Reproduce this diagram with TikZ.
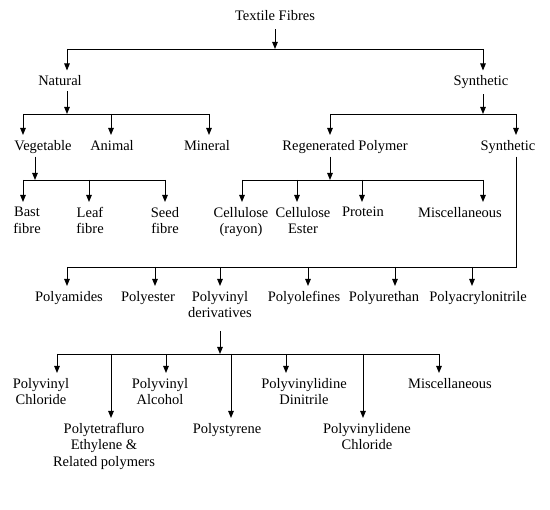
\documentclass[tikz,border=0pt]{standalone}
\usepackage{fontspec}
\setmainfont{Liberation Serif}
\usetikzlibrary{arrows.meta}
\begin{document}
\begin{tikzpicture}[x=1pt,y=-1pt,
  lbl/.style={anchor=north,inner xsep=0pt,inner ysep=5pt,align=center,font=\fontsize{14.5}{16.4}\selectfont},
  arr/.style={line width=0.9pt,-{Triangle[width=5.5pt,length=7pt]}},
  ln/.style={line width=0.9pt}]
\useasboundingbox[fill=white] (0,0) rectangle (550,510);
% nodes
\node[lbl] (tf) at (275,5) {Textile Fibres};
\node[lbl] (nat) at (60,70.5) {Natural};
\node[lbl] (syn) at (481,70.5) {Synthetic};
\node[lbl] (veg) at (43,135) {Vegetable};
\node[lbl] (ani) at (112,135) {Animal};
\node[lbl] (min) at (207,135) {Mineral};
\node[lbl] (reg) at (345,135) {Regenerated Polymer};
\node[lbl] (syn2) at (508,135) {Synthetic};
\node[lbl] (bast) at (27,202) {Bast\\fibre};
\node[lbl] (leaf) at (90,202) {Leaf\\fibre};
\node[lbl] (seed) at (165,202) {Seed\\fibre};
\node[lbl] (cr) at (241,202) {Cellulose\\(rayon)};
\node[lbl] (ce) at (303,202) {Cellulose\\Ester};
\node[lbl] (pro) at (363,202) {Protein};
\node[lbl] (misa) at (460,202) {Miscellaneous};
\node[lbl] (pam) at (69,286) {Polyamides};
\node[lbl] (pes) at (148,286) {Polyester};
\node[lbl] (pvd) at (220,286) {Polyvinyl\\derivatives};
\node[lbl] (pol) at (304,286) {Polyolefines};
\node[lbl] (pur) at (384,286) {Polyurethan};
\node[lbl] (pac) at (478,286) {Polyacrylonitrile};
\node[lbl] (pvc) at (41,373) {Polyvinyl\\Chloride};
\node[lbl] (ptfe) at (104,418) {Polytetrafluro\\Ethylene \&\\Related polymers};
\node[lbl] (pva) at (160,373) {Polyvinyl\\Alcohol};
\node[lbl] (pst) at (227,418) {Polystyrene};
\node[lbl] (pvdn) at (304,373) {Polyvinylidine\\Dinitrile};
\node[lbl] (pvdc) at (367,418) {Polyvinylidene\\Chloride};
\node[lbl] (misb) at (450,373) {Miscellaneous};
% level 0
\coordinate (j0) at (275,49);
\coordinate (j0a) at (67,49);
\coordinate (j0b) at (483,49);
\draw[arr] ([yshift=-3.5pt]tf.south) -- (j0);
\draw[ln] (j0a) -- (j0b);
\draw[arr] (j0a) -- (j0a |- nat.north);
\draw[arr] (j0b) -- (j0b |- syn.north);
% natural
\coordinate (j1) at (67,114);
\coordinate (j1a) at (23,114);
\coordinate (j1b) at (111,114);
\coordinate (j1c) at (209,114);
\draw[arr] (j1 |- nat.south) -- (j1);
\draw[ln] (j1a) -- (j1c);
\draw[arr] (j1a) -- (j1a |- veg.north);
\draw[arr] (j1b) -- (j1b |- ani.north);
\draw[arr] (j1c) -- (j1c |- min.north);
% synthetic
\coordinate (j2) at (483,114);
\coordinate (j2a) at (330,114);
\coordinate (j2b) at (516,114);
\draw[arr] (j2 |- syn.south) -- (j2);
\draw[ln] (j2a) -- (j2b);
\draw[arr] (j2a) -- (j2a |- reg.north);
\draw[arr] (j2b) -- (j2b |- syn2.north);
% vegetable
\coordinate (j3) at (35,180);
\coordinate (j3a) at (23,180);
\coordinate (j3b) at (89,180);
\coordinate (j3c) at (165,180);
\draw[arr] ([yshift=2pt]j3 |- veg.south) -- (j3);
\draw[ln] (j3a) -- (j3c);
\draw[arr] (j3a) -- (j3a |- bast.north);
\draw[arr] (j3b) -- (j3b |- leaf.north);
\draw[arr] (j3c) -- (j3c |- seed.north);
% regenerated
\coordinate (j4) at (330,180);
\coordinate (j4a) at (242,180);
\coordinate (j4b) at (297,180);
\coordinate (j4c) at (362,180);
\coordinate (j4d) at (483,180);
\draw[arr] ([yshift=2pt]j4 |- reg.south) -- (j4);
\draw[ln] (j4a) -- (j4d);
\draw[arr] (j4a) -- (j4a |- cr.north);
\draw[arr] (j4b) -- (j4b |- ce.north);
\draw[arr] (j4c) -- (j4c |- pro.north);
\draw[arr] (j4d) -- (j4d |- misa.north);
% synthetic 2
\coordinate (j5) at (516,267);
\coordinate (j5a) at (67,267);
\coordinate (j5b) at (155,267);
\coordinate (j5c) at (220,267);
\coordinate (j5d) at (308,267);
\coordinate (j5e) at (395,267);
\coordinate (j5f) at (472,267);
\draw[ln] ([yshift=2pt]j5 |- syn2.south) -- (j5) -- (j5a);
\draw[arr] (j5a) -- (j5a |- pam.north);
\draw[arr] (j5b) -- (j5b |- pes.north);
\draw[arr] (j5c) -- (j5c |- pvd.north);
\draw[arr] (j5d) -- (j5d |- pol.north);
\draw[arr] (j5e) -- (j5e |- pur.north);
\draw[arr] (j5f) -- (j5f |- pac.north);
% polyvinyl derivatives
\coordinate (j6) at (220,354);
\coordinate (j6a) at (57,354);
\coordinate (j6b) at (111,354);
\coordinate (j6c) at (166,354);
\coordinate (j6d) at (231,354);
\coordinate (j6e) at (286,354);
\coordinate (j6f) at (363,354);
\coordinate (j6g) at (439,354);
\draw[arr] ([yshift=-8pt]pvd.south) -- (j6);
\draw[ln] (j6a) -- (j6g);
\draw[arr] (j6a) -- (j6a |- pvc.north);
\draw[arr] (j6b) -- (j6b |- ptfe.north);
\draw[arr] (j6c) -- (j6c |- pva.north);
\draw[arr] (j6d) -- (j6d |- pst.north);
\draw[arr] (j6e) -- (j6e |- pvdn.north);
\draw[arr] (j6f) -- (j6f |- pvdc.north);
\draw[arr] (j6g) -- (j6g |- misb.north);
\end{tikzpicture}
\end{document}
